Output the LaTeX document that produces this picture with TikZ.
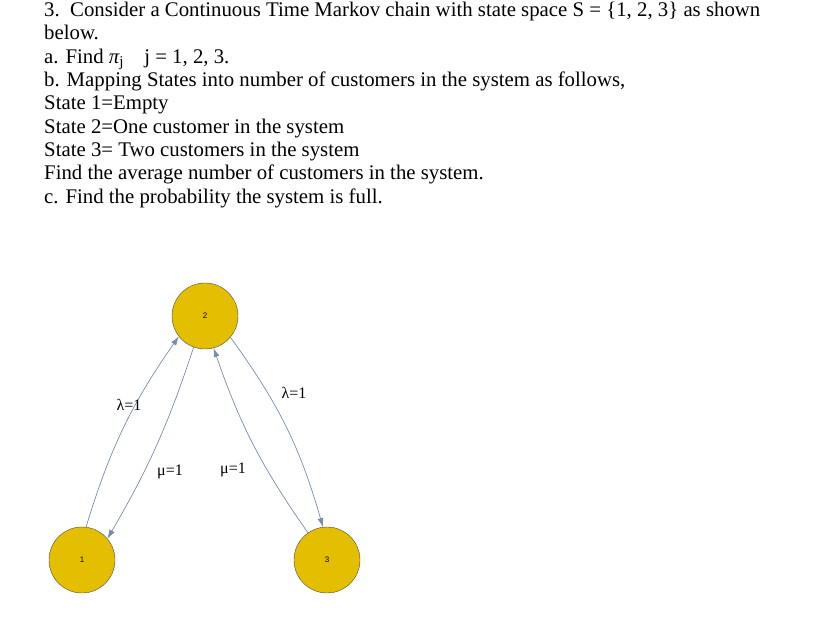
\documentclass[tikz,border=0pt]{standalone}
\usepackage{fontspec}
\setmainfont{Liberation Serif}
\setsansfont{Liberation Sans}
\usetikzlibrary{arrows.meta}
\begin{document}
\begin{tikzpicture}[x=1pt,y=1pt,
  st/.style={circle,draw=black!70,fill={rgb,255:red,228;green,190;blue,0},minimum size=66pt,inner sep=0pt,font=\sffamily\fontsize{8}{9}\selectfont},
  tr/.style={draw={rgb,255:red,120;green,140;blue,175},line width=0.7pt,-{Latex[length=9pt,width=6pt]}},
  lb/.style={font=\fontsize{16}{18}\selectfont}]
\useasboundingbox (0,0) rectangle (830,643);
\node[anchor=north west,align=left,inner sep=0pt,font=\fontsize{20.8}{23.3}\selectfont] (txt) at (44,641) {3.\ \ Consider a Continuous Time Markov chain with state space S = \{1, 2, 3\} as shown\\below.\\a. Find {\itshape π}\raisebox{-3pt}{\fontsize{15}{15}\selectfont j}\quad j = 1, 2, 3.\\b. Mapping States into number of customers in the system as follows,\\State 1=Empty\\State 2=One customer in the system\\State 3= Two customers in the system\\Find the average number of customers in the system.\\c. Find the probability the system is full.};
\node[st] (n1) at (82,83) {1};
\node[st] (n2) at (205,327) {2};
\node[st] (n3) at (327,83) {3};
\draw[tr] (n1.83) to[bend left=9] (n2.218);
\draw[tr] (n2.250) to[bend left=6] (n1.40);
\draw[tr] (n2.-40) to[bend left=10] (n3.97);
\draw[tr] (n3.125) to[bend left=8] (n2.285);
\node[lb] (l1) at (129,238) {λ=1};
\node[lb] (l2) at (170,171) {μ=1};
\node[lb] (l3) at (233,173) {μ=1};
\node[lb] (l4) at (294,250) {λ=1};
\end{tikzpicture}
\end{document}
